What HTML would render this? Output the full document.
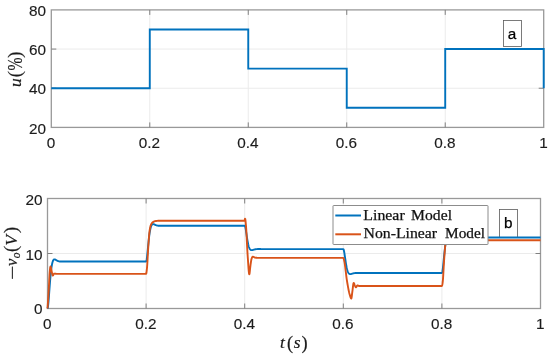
<!DOCTYPE html>
<html><head><meta charset="utf-8"><title>Linear vs Non-Linear Model</title>
<style>
html,body{margin:0;padding:0;background:#fff;}
body{width:550px;height:356px;overflow:hidden;}
svg{display:block;}
.tk{font-family:"Liberation Sans",Arial,sans-serif;font-size:15.3px;fill:#1c1c1c;stroke:#1c1c1c;stroke-width:0.15px;}
.an{font-family:"Liberation Sans",Arial,sans-serif;font-size:15.3px;fill:#000;stroke:#000;stroke-width:0.25px;}
.lg{font-family:"Liberation Serif","Times New Roman",serif;font-size:15.1px;fill:#111;stroke:#111;stroke-width:0.25px;}
.lb{font-family:"Liberation Serif","Times New Roman",serif;font-size:17.5px;fill:#1a1a1a;stroke:#1a1a1a;stroke-width:0.2px;}
.it{font-style:italic;}
</style></head>
<body>
<svg width="550" height="356" viewBox="0 0 550 356">
<rect width="550" height="356" fill="#ffffff"/>
<line x1="149.78" y1="9.9" x2="149.78" y2="127.4" stroke="#ebebeb" stroke-width="1"/>
<line x1="248.26" y1="9.9" x2="248.26" y2="127.4" stroke="#ebebeb" stroke-width="1"/>
<line x1="346.74" y1="9.9" x2="346.74" y2="127.4" stroke="#ebebeb" stroke-width="1"/>
<line x1="445.22" y1="9.9" x2="445.22" y2="127.4" stroke="#ebebeb" stroke-width="1"/>
<line x1="51.3" y1="88.23" x2="543.7" y2="88.23" stroke="#ebebeb" stroke-width="1"/>
<line x1="51.3" y1="49.07" x2="543.7" y2="49.07" stroke="#ebebeb" stroke-width="1"/>
<rect x="51.3" y="9.9" width="492.4" height="117.5" fill="none" stroke="#999999" stroke-width="1.3"/>
<line x1="149.78" y1="127.4" x2="149.78" y2="122.4" stroke="#808080" stroke-width="1"/>
<line x1="149.78" y1="9.9" x2="149.78" y2="14.9" stroke="#808080" stroke-width="1"/>
<line x1="248.26" y1="127.4" x2="248.26" y2="122.4" stroke="#808080" stroke-width="1"/>
<line x1="248.26" y1="9.9" x2="248.26" y2="14.9" stroke="#808080" stroke-width="1"/>
<line x1="346.74" y1="127.4" x2="346.74" y2="122.4" stroke="#808080" stroke-width="1"/>
<line x1="346.74" y1="9.9" x2="346.74" y2="14.9" stroke="#808080" stroke-width="1"/>
<line x1="445.22" y1="127.4" x2="445.22" y2="122.4" stroke="#808080" stroke-width="1"/>
<line x1="445.22" y1="9.9" x2="445.22" y2="14.9" stroke="#808080" stroke-width="1"/>
<line x1="51.3" y1="88.23" x2="56.3" y2="88.23" stroke="#808080" stroke-width="1"/>
<line x1="543.7" y1="88.23" x2="538.7" y2="88.23" stroke="#808080" stroke-width="1"/>
<line x1="51.3" y1="49.07" x2="56.3" y2="49.07" stroke="#808080" stroke-width="1"/>
<line x1="543.7" y1="49.07" x2="538.7" y2="49.07" stroke="#808080" stroke-width="1"/>
<path d="M51.3,88.23 L149.78,88.23 L149.78,29.48 L248.26,29.48 L248.26,68.65 L346.74,68.65 L346.74,107.82 L445.22,107.82 L445.22,49.07 L543.7,49.07 L543.7,88.23" fill="none" stroke="#0072BD" stroke-width="1.9" stroke-linejoin="miter"/>
<text class="tk" x="45.9" y="133.65" text-anchor="end">20</text>
<text class="tk" x="45.9" y="94.48" text-anchor="end">40</text>
<text class="tk" x="45.9" y="55.32" text-anchor="end">60</text>
<text class="tk" x="45.9" y="16.15" text-anchor="end">80</text>
<text class="tk" x="51" y="148.3" text-anchor="middle">0</text>
<text class="tk" x="149.48" y="148.3" text-anchor="middle">0.2</text>
<text class="tk" x="247.96" y="148.3" text-anchor="middle">0.4</text>
<text class="tk" x="346.44" y="148.3" text-anchor="middle">0.6</text>
<text class="tk" x="444.92" y="148.3" text-anchor="middle">0.8</text>
<text class="tk" x="543.4" y="148.3" text-anchor="middle">1</text>
<line x1="146.1" y1="198.5" x2="146.1" y2="308.5" stroke="#ebebeb" stroke-width="1"/>
<line x1="244.7" y1="198.5" x2="244.7" y2="308.5" stroke="#ebebeb" stroke-width="1"/>
<line x1="343.3" y1="198.5" x2="343.3" y2="308.5" stroke="#ebebeb" stroke-width="1"/>
<line x1="441.9" y1="198.5" x2="441.9" y2="308.5" stroke="#ebebeb" stroke-width="1"/>
<line x1="47.5" y1="253.5" x2="540.5" y2="253.5" stroke="#ebebeb" stroke-width="1"/>
<rect x="47.5" y="198.5" width="493" height="110" fill="none" stroke="#999999" stroke-width="1.3"/>
<line x1="146.1" y1="308.5" x2="146.1" y2="303.5" stroke="#808080" stroke-width="1"/>
<line x1="146.1" y1="198.5" x2="146.1" y2="203.5" stroke="#808080" stroke-width="1"/>
<line x1="244.7" y1="308.5" x2="244.7" y2="303.5" stroke="#808080" stroke-width="1"/>
<line x1="244.7" y1="198.5" x2="244.7" y2="203.5" stroke="#808080" stroke-width="1"/>
<line x1="343.3" y1="308.5" x2="343.3" y2="303.5" stroke="#808080" stroke-width="1"/>
<line x1="343.3" y1="198.5" x2="343.3" y2="203.5" stroke="#808080" stroke-width="1"/>
<line x1="441.9" y1="308.5" x2="441.9" y2="303.5" stroke="#808080" stroke-width="1"/>
<line x1="441.9" y1="198.5" x2="441.9" y2="203.5" stroke="#808080" stroke-width="1"/>
<line x1="47.5" y1="253.5" x2="52.5" y2="253.5" stroke="#808080" stroke-width="1"/>
<line x1="540.5" y1="253.5" x2="535.5" y2="253.5" stroke="#808080" stroke-width="1"/>
<rect x="499.5" y="209.5" width="18" height="28" fill="#fff" stroke="#5a5a5a" stroke-width="0.8"/>
<path d="M47.5,308.5 L47.75,307.96 L48,306.49 L48.25,304.31 L48.5,301.61 L48.75,298.56 L49,295.28 L49.25,291.91 L49.5,288.53 L49.75,285.21 L50,282.03 L50.25,279.03 L50.5,276.23 L50.75,273.65 L51,271.32 L51.25,269.23 L51.5,267.39 L51.75,265.78 L52,264.39 L52.25,263.22 L52.5,262.24 L52.75,261.43 L53,260.79 L53.25,260.29 L53.5,259.92 L53.75,259.65 L54,259.48 L54.25,259.39 L54.5,259.36 L54.75,259.38 L55,259.45 L55.25,259.55 L55.5,259.67 L55.75,259.81 L56,259.95 L56.25,260.11 L56.5,260.26 L56.75,260.41 L57,260.55 L57.25,260.69 L57.5,260.81 L57.75,260.93 L58,261.03 L58.25,261.13 L58.5,261.21 L58.75,261.28 L59,261.34 L59.25,261.4 L59.5,261.44 L59.75,261.48 L60,261.51 L60.25,261.53 L60.5,261.55 L60.75,261.56 L61,261.56 L61.25,261.57 L61.5,261.57 L61.75,261.57 L62,261.57 L62.25,261.56 L62.5,261.56 L62.75,261.55 L63,261.54 L63.25,261.54 L63.5,261.53 L63.75,261.52 L64,261.52 L64.25,261.51 L64.5,261.5 L64.75,261.5 L65,261.49 L65.25,261.49 L65.5,261.49 L65.75,261.48 L66,261.48 L66.25,261.48 L66.5,261.48 L66.75,261.47 L67,261.47 L67.25,261.47 L67.5,261.47 L67.75,261.47 L68,261.47 L68.25,261.47 L68.5,261.47 L68.75,261.47 L69,261.47 L69.25,261.47 L69.5,261.47 L69.75,261.47 L70,261.47 L70.25,261.47 L70.5,261.47 L70.75,261.47 L71,261.47 L71.25,261.47 L71.5,261.47 L71.75,261.47 L72,261.47 L72.25,261.47 L72.5,261.47 L72.75,261.47 L73,261.47 L73.25,261.47 L73.5,261.47 L73.75,261.48 L74,261.48 L74.25,261.48 L74.5,261.48 L74.75,261.48 L75,261.48 L75.25,261.48 L75.5,261.48 L75.75,261.48 L76,261.48 L76.25,261.48 L76.5,261.48 L76.75,261.48 L77,261.48 L77.25,261.48 L146.1,261.48 L146.1,261.48 L146.35,261.06 L146.6,259.95 L146.85,258.29 L147.1,256.24 L147.35,253.92 L147.6,251.43 L147.85,248.86 L148.1,246.29 L148.35,243.77 L148.6,241.35 L148.85,239.07 L149.1,236.94 L149.35,234.98 L149.6,233.21 L149.85,231.62 L150.1,230.22 L150.35,229 L150.6,227.94 L150.85,227.05 L151.1,226.3 L151.35,225.69 L151.6,225.2 L151.85,224.83 L152.1,224.54 L152.35,224.34 L152.6,224.21 L152.85,224.14 L153.1,224.12 L153.35,224.13 L153.6,224.19 L153.85,224.26 L154.1,224.35 L154.35,224.46 L154.6,224.57 L154.85,224.68 L155.1,224.8 L155.35,224.91 L155.6,225.02 L155.85,225.12 L156.1,225.22 L156.35,225.31 L156.6,225.39 L156.85,225.46 L157.1,225.52 L157.35,225.58 L157.6,225.63 L157.85,225.67 L158.1,225.7 L158.35,225.73 L158.6,225.75 L158.85,225.77 L159.1,225.78 L159.35,225.79 L159.6,225.79 L159.85,225.8 L160.1,225.8 L160.35,225.8 L160.6,225.79 L160.85,225.79 L161.1,225.79 L161.35,225.78 L161.6,225.78 L161.85,225.77 L162.1,225.77 L162.35,225.76 L162.6,225.76 L162.85,225.75 L163.1,225.75 L163.35,225.74 L163.6,225.74 L163.85,225.74 L164.1,225.73 L164.35,225.73 L164.6,225.73 L164.85,225.73 L165.1,225.73 L165.35,225.72 L165.6,225.72 L165.85,225.72 L166.1,225.72 L166.35,225.72 L166.6,225.72 L166.85,225.72 L167.1,225.72 L167.35,225.72 L167.6,225.72 L167.85,225.72 L168.1,225.72 L168.35,225.72 L168.6,225.72 L168.85,225.72 L169.1,225.72 L169.35,225.72 L169.6,225.72 L169.85,225.72 L170.1,225.72 L170.35,225.72 L170.6,225.72 L170.85,225.72 L171.1,225.72 L171.35,225.72 L171.6,225.72 L171.85,225.72 L172.1,225.72 L172.35,225.73 L172.6,225.73 L172.85,225.73 L173.1,225.73 L173.35,225.73 L173.6,225.73 L173.85,225.73 L174.1,225.73 L174.35,225.73 L174.6,225.73 L174.85,225.73 L175.1,225.73 L175.35,225.73 L175.6,225.73 L175.85,225.73 L244.7,225.72 L244.7,225.72 L244.95,225.99 L245.2,226.72 L245.45,227.81 L245.7,229.15 L245.95,230.67 L246.2,232.29 L246.45,233.97 L246.7,235.65 L246.95,237.3 L247.2,238.88 L247.45,240.38 L247.7,241.77 L247.95,243.05 L248.2,244.21 L248.45,245.24 L248.7,246.16 L248.95,246.96 L249.2,247.65 L249.45,248.23 L249.7,248.72 L249.95,249.12 L250.2,249.44 L250.45,249.69 L250.7,249.87 L250.95,250.01 L251.2,250.09 L251.45,250.14 L251.7,250.15 L251.95,250.14 L252.2,250.11 L252.45,250.06 L252.7,250 L252.95,249.93 L253.2,249.86 L253.45,249.78 L253.7,249.71 L253.95,249.63 L254.2,249.56 L254.45,249.49 L254.7,249.43 L254.95,249.37 L255.2,249.32 L255.45,249.27 L255.7,249.23 L255.95,249.2 L256.2,249.17 L256.45,249.14 L256.7,249.12 L256.95,249.1 L257.2,249.08 L257.45,249.07 L257.7,249.07 L257.95,249.06 L258.2,249.06 L258.45,249.05 L258.7,249.05 L258.95,249.05 L259.2,249.05 L259.45,249.06 L259.7,249.06 L259.95,249.06 L260.2,249.07 L260.45,249.07 L260.7,249.07 L260.95,249.08 L261.2,249.08 L261.45,249.08 L261.7,249.09 L261.95,249.09 L262.2,249.09 L262.45,249.09 L262.7,249.09 L262.95,249.1 L263.2,249.1 L263.45,249.1 L263.7,249.1 L263.95,249.1 L264.2,249.1 L264.45,249.1 L264.7,249.1 L264.95,249.1 L265.2,249.1 L265.45,249.1 L265.7,249.1 L265.95,249.1 L266.2,249.1 L266.45,249.1 L266.7,249.1 L266.95,249.1 L267.2,249.1 L267.45,249.1 L267.7,249.1 L267.95,249.1 L268.2,249.1 L268.45,249.1 L268.7,249.1 L268.95,249.1 L269.2,249.1 L269.45,249.1 L269.7,249.1 L269.95,249.1 L270.2,249.1 L270.45,249.1 L270.7,249.1 L270.95,249.1 L271.2,249.1 L271.45,249.1 L271.7,249.1 L271.95,249.1 L272.2,249.1 L272.45,249.1 L272.7,249.1 L272.95,249.1 L273.2,249.1 L273.45,249.1 L273.7,249.1 L273.95,249.1 L274.2,249.1 L274.45,249.1 L343.3,249.1 L343.3,249.1 L343.55,249.38 L343.8,250.12 L344.05,251.23 L344.3,252.6 L344.55,254.16 L344.8,255.82 L345.05,257.54 L345.3,259.26 L345.55,260.95 L345.8,262.57 L346.05,264.1 L346.3,265.52 L346.55,266.83 L346.8,268.02 L347.05,269.08 L347.3,270.02 L347.55,270.84 L347.8,271.54 L348.05,272.14 L348.3,272.64 L348.55,273.05 L348.8,273.37 L349.05,273.63 L349.3,273.82 L349.55,273.95 L349.8,274.04 L350.05,274.09 L350.3,274.1 L350.55,274.09 L350.8,274.06 L351.05,274.01 L351.3,273.94 L351.55,273.87 L351.8,273.8 L352.05,273.72 L352.3,273.64 L352.55,273.57 L352.8,273.5 L353.05,273.43 L353.3,273.36 L353.55,273.3 L353.8,273.25 L354.05,273.2 L354.3,273.16 L354.55,273.12 L354.8,273.09 L355.05,273.06 L355.3,273.04 L355.55,273.02 L355.8,273.01 L356.05,273 L356.3,272.99 L356.55,272.98 L356.8,272.98 L357.05,272.98 L357.3,272.98 L357.55,272.98 L357.8,272.98 L358.05,272.98 L358.3,272.98 L358.55,272.99 L358.8,272.99 L359.05,272.99 L359.3,273 L359.55,273 L359.8,273 L360.05,273.01 L360.3,273.01 L360.55,273.01 L360.8,273.01 L361.05,273.02 L361.3,273.02 L361.55,273.02 L361.8,273.02 L362.05,273.02 L362.3,273.02 L362.55,273.03 L362.8,273.03 L363.05,273.03 L363.3,273.03 L363.55,273.03 L363.8,273.03 L364.05,273.03 L364.3,273.03 L364.55,273.03 L364.8,273.03 L365.05,273.03 L365.3,273.03 L365.55,273.03 L365.8,273.03 L366.05,273.03 L366.3,273.03 L366.55,273.03 L366.8,273.03 L367.05,273.03 L367.3,273.03 L367.55,273.03 L367.8,273.03 L368.05,273.03 L368.3,273.03 L368.55,273.03 L368.8,273.03 L369.05,273.03 L369.3,273.03 L369.55,273.02 L369.8,273.02 L370.05,273.02 L370.3,273.02 L370.55,273.02 L370.8,273.02 L371.05,273.02 L371.3,273.02 L371.55,273.02 L371.8,273.02 L372.05,273.02 L372.3,273.02 L372.55,273.02 L372.8,273.02 L373.05,273.02 L441.9,273.02 L441.9,273.02 L442.15,272.62 L442.4,271.51 L442.65,269.86 L442.9,267.83 L443.15,265.52 L443.4,263.05 L443.65,260.51 L443.9,257.96 L444.15,255.46 L444.4,253.06 L444.65,250.79 L444.9,248.68 L445.15,246.74 L445.4,244.98 L445.65,243.4 L445.9,242.01 L446.15,240.8 L446.4,239.75 L446.65,238.86 L446.9,238.12 L447.15,237.52 L447.4,237.03 L447.65,236.66 L447.9,236.37 L448.15,236.17 L448.4,236.05 L448.65,235.97 L448.9,235.95 L449.15,235.97 L449.4,236.02 L449.65,236.1 L449.9,236.19 L450.15,236.29 L450.4,236.4 L450.65,236.52 L450.9,236.63 L451.15,236.74 L451.4,236.85 L451.65,236.95 L451.9,237.05 L452.15,237.14 L452.4,237.22 L452.65,237.29 L452.9,237.35 L453.15,237.4 L453.4,237.45 L453.65,237.49 L453.9,237.52 L454.15,237.55 L454.4,237.57 L454.65,237.59 L454.9,237.6 L455.15,237.61 L455.4,237.62 L455.65,237.62 L455.9,237.62 L456.15,237.62 L456.4,237.62 L456.65,237.62 L456.9,237.61 L457.15,237.61 L457.4,237.6 L457.65,237.6 L457.9,237.59 L458.15,237.59 L458.4,237.58 L458.65,237.58 L458.9,237.57 L459.15,237.57 L459.4,237.57 L459.65,237.56 L459.9,237.56 L460.15,237.56 L460.4,237.55 L460.65,237.55 L460.9,237.55 L461.15,237.55 L461.4,237.55 L461.65,237.55 L461.9,237.55 L462.15,237.55 L462.4,237.55 L462.65,237.55 L462.9,237.55 L463.15,237.55 L463.4,237.55 L463.65,237.55 L463.9,237.55 L464.15,237.55 L464.4,237.55 L464.65,237.55 L464.9,237.55 L465.15,237.55 L465.4,237.55 L465.65,237.55 L465.9,237.55 L466.15,237.55 L466.4,237.55 L466.65,237.55 L466.9,237.55 L467.15,237.55 L467.4,237.55 L467.65,237.55 L467.9,237.55 L468.15,237.55 L468.4,237.55 L468.65,237.55 L468.9,237.55 L469.15,237.55 L469.4,237.55 L469.65,237.55 L469.9,237.55 L470.15,237.55 L470.4,237.55 L470.65,237.55 L470.9,237.55 L471.15,237.55 L471.4,237.55 L471.65,237.55 L540.5,237.55" fill="none" stroke="#0072BD" stroke-width="1.9" stroke-linejoin="round"/>
<path d="M47.5,308.5 L47.75,305.25 L48,301.76 L48.25,298.05 L48.5,294.15 L48.75,290.04 L49,285.08 L49.25,279.71 L49.5,274.93 L49.75,271.68 L50,269.17 L50.25,267.21 L50.5,266.43 L50.75,266.88 L51,267.99 L51.25,269.35 L51.5,270.55 L51.75,271.68 L52,272.93 L52.25,274.12 L52.5,275.04 L52.75,275.49 L53,275.41 L53.25,275.08 L53.5,274.63 L53.75,274.16 L54,273.78 L54.25,273.58 L54.5,273.58 L54.75,273.6 L55,273.64 L55.25,273.68 L55.5,273.73 L55.75,273.78 L56,273.81 L56.25,273.84 L56.5,273.85 L56.75,273.85 L57,273.85 L57.25,273.85 L57.5,273.85 L57.75,273.85 L58,273.85 L58.25,273.85 L58.5,273.85 L58.75,273.85 L59,273.85 L59.25,273.85 L59.5,273.85 L59.75,273.85 L60,273.85 L60.25,273.85 L60.5,273.85 L60.75,273.85 L61,273.85 L61.25,273.85 L61.5,273.85 L61.75,273.85 L62,273.85 L62.25,273.85 L62.5,273.85 L62.75,273.85 L63,273.85 L63.25,273.85 L63.5,273.85 L63.75,273.85 L64,273.85 L64.25,273.85 L64.5,273.85 L64.75,273.85 L65,273.85 L65.25,273.85 L65.5,273.85 L65.75,273.85 L66,273.85 L66.25,273.85 L66.5,273.85 L66.75,273.85 L67,273.85 L67.25,273.85 L67.5,273.85 L67.75,273.85 L68,273.85 L68.25,273.85 L68.5,273.85 L68.75,273.85 L69,273.85 L69.25,273.85 L69.5,273.85 L69.75,273.85 L70,273.85 L70.25,273.85 L70.5,273.85 L70.75,273.85 L71,273.85 L71.25,273.85 L71.5,273.85 L71.75,273.85 L72,273.85 L72.25,273.85 L72.5,273.85 L72.75,273.85 L73,273.85 L73.25,273.85 L73.5,273.85 L73.75,273.85 L74,273.85 L74.25,273.85 L74.5,273.85 L74.75,273.85 L75,273.85 L75.25,273.85 L75.5,273.85 L75.75,273.85 L76,273.85 L76.25,273.85 L76.5,273.85 L76.75,273.85 L77,273.85 L77.25,273.85 L77.5,273.85 L77.75,273.85 L78,273.85 L78.25,273.85 L78.5,273.85 L78.75,273.85 L79,273.85 L79.25,273.85 L79.5,273.85 L79.75,273.85 L80,273.85 L80.25,273.85 L80.5,273.85 L80.75,273.85 L81,273.85 L81.25,273.85 L81.5,273.85 L81.75,273.85 L82,273.85 L82.25,273.85 L82.5,273.85 L82.75,273.85 L83,273.85 L83.25,273.85 L83.5,273.85 L83.75,273.85 L84,273.85 L84.25,273.85 L84.5,273.85 L84.75,273.85 L85,273.85 L85.25,273.85 L85.5,273.85 L85.75,273.85 L86,273.85 L86.25,273.85 L86.5,273.85 L86.75,273.85 L87,273.85 L87.25,273.85 L87.5,273.85 L87.75,273.85 L88,273.85 L88.25,273.85 L88.5,273.85 L88.75,273.85 L89,273.85 L89.25,273.85 L89.5,273.85 L89.75,273.85 L90,273.85 L90.25,273.85 L90.5,273.85 L90.75,273.85 L91,273.85 L91.25,273.85 L91.5,273.85 L91.75,273.85 L92,273.85 L92.25,273.85 L92.5,273.85 L92.75,273.85 L93,273.85 L93.25,273.85 L93.5,273.85 L93.75,273.85 L94,273.85 L94.25,273.85 L94.5,273.85 L94.75,273.85 L95,273.85 L95.25,273.85 L95.5,273.85 L95.75,273.85 L96,273.85 L96.25,273.85 L96.5,273.85 L96.75,273.85 L97,273.85 L97.25,273.85 L97.5,273.85 L97.75,273.85 L98,273.85 L98.25,273.85 L98.5,273.85 L98.75,273.85 L99,273.85 L99.25,273.85 L99.5,273.85 L99.75,273.85 L100,273.85 L100.25,273.85 L100.5,273.85 L100.75,273.85 L101,273.85 L101.25,273.85 L101.5,273.85 L101.75,273.85 L102,273.85 L102.25,273.85 L102.5,273.85 L102.75,273.85 L103,273.85 L103.25,273.85 L103.5,273.85 L103.75,273.85 L104,273.85 L104.25,273.85 L104.5,273.85 L104.75,273.85 L105,273.85 L105.25,273.85 L105.5,273.85 L105.75,273.85 L106,273.85 L106.25,273.85 L106.5,273.85 L106.75,273.85 L107,273.85 L107.25,273.85 L107.5,273.85 L107.75,273.85 L108,273.85 L108.25,273.85 L108.5,273.85 L108.75,273.85 L109,273.85 L109.25,273.85 L109.5,273.85 L109.75,273.85 L110,273.85 L110.25,273.85 L110.5,273.85 L110.75,273.85 L111,273.85 L111.25,273.85 L111.5,273.85 L111.75,273.85 L112,273.85 L112.25,273.85 L112.5,273.85 L112.75,273.85 L113,273.85 L113.25,273.85 L113.5,273.85 L113.75,273.85 L114,273.85 L114.25,273.85 L114.5,273.85 L114.75,273.85 L115,273.85 L115.25,273.85 L115.5,273.85 L115.75,273.85 L116,273.85 L116.25,273.85 L116.5,273.85 L116.75,273.85 L117,273.85 L117.25,273.85 L117.5,273.85 L117.75,273.85 L118,273.85 L118.25,273.85 L118.5,273.85 L118.75,273.85 L119,273.85 L119.25,273.85 L119.5,273.85 L119.75,273.85 L120,273.85 L120.25,273.85 L120.5,273.85 L120.75,273.85 L121,273.85 L121.25,273.85 L121.5,273.85 L121.75,273.85 L122,273.85 L122.25,273.85 L122.5,273.85 L122.75,273.85 L123,273.85 L123.25,273.85 L123.5,273.85 L123.75,273.85 L124,273.85 L124.25,273.85 L124.5,273.85 L124.75,273.85 L125,273.85 L125.25,273.85 L125.5,273.85 L125.75,273.85 L126,273.85 L126.25,273.85 L126.5,273.85 L126.75,273.85 L127,273.85 L127.25,273.85 L127.5,273.85 L127.75,273.85 L128,273.85 L128.25,273.85 L128.5,273.85 L128.75,273.85 L129,273.85 L129.25,273.85 L129.5,273.85 L129.75,273.85 L130,273.85 L130.25,273.85 L130.5,273.85 L130.75,273.85 L131,273.85 L131.25,273.85 L131.5,273.85 L131.75,273.85 L132,273.85 L132.25,273.85 L132.5,273.85 L132.75,273.85 L133,273.85 L133.25,273.85 L133.5,273.85 L133.75,273.85 L134,273.85 L134.25,273.85 L134.5,273.85 L134.75,273.85 L135,273.85 L135.25,273.85 L135.5,273.85 L135.75,273.85 L136,273.85 L136.25,273.85 L136.5,273.85 L136.75,273.85 L137,273.85 L137.25,273.85 L137.5,273.85 L137.75,273.85 L138,273.85 L138.25,273.85 L138.5,273.85 L138.75,273.85 L139,273.85 L139.25,273.85 L139.5,273.85 L139.75,273.85 L140,273.85 L140.25,273.85 L140.5,273.85 L140.75,273.85 L141,273.85 L141.25,273.85 L141.5,273.85 L141.75,273.85 L142,273.85 L142.25,273.85 L142.5,273.85 L142.75,273.85 L143,273.85 L143.25,273.85 L143.5,273.85 L143.75,273.85 L144,273.85 L144.25,273.85 L144.5,273.85 L144.75,273.85 L145,273.85 L145.25,273.85 L145.5,273.85 L145.75,273.85 L146,273.85 L146.25,273.6 L146.5,272.25 L146.75,270.16 L147,267.8 L147.25,264.71 L147.5,260.51 L147.75,255.8 L148,251.2 L148.25,247.28 L148.5,243.59 L148.75,239.94 L149,236.55 L149.25,233.67 L149.5,231.5 L149.75,229.86 L150,228.4 L150.25,227.14 L150.5,226.09 L150.75,225.27 L151,224.68 L151.25,224.19 L151.5,223.74 L151.75,223.35 L152,223.01 L152.25,222.71 L152.5,222.46 L152.75,222.25 L153,222.09 L153.25,221.93 L153.5,221.79 L153.75,221.66 L154,221.54 L154.25,221.43 L154.5,221.33 L154.75,221.24 L155,221.17 L155.25,221.11 L155.5,221.06 L155.75,221.03 L156,221 L156.25,220.97 L156.5,220.94 L156.75,220.91 L157,220.88 L157.25,220.86 L157.5,220.84 L157.75,220.82 L158,220.81 L158.25,220.79 L158.5,220.78 L158.75,220.78 L159,220.78 L159.25,220.78 L159.5,220.78 L159.75,220.78 L160,220.78 L160.25,220.78 L160.5,220.78 L160.75,220.78 L161,220.78 L161.25,220.78 L161.5,220.78 L161.75,220.78 L162,220.78 L162.25,220.78 L162.5,220.78 L162.75,220.78 L163,220.78 L163.25,220.78 L163.5,220.78 L163.75,220.78 L164,220.78 L164.25,220.78 L164.5,220.78 L164.75,220.78 L165,220.78 L165.25,220.78 L165.5,220.78 L165.75,220.78 L166,220.78 L166.25,220.78 L166.5,220.78 L166.75,220.78 L167,220.78 L167.25,220.78 L167.5,220.78 L167.75,220.78 L168,220.78 L168.25,220.78 L168.5,220.78 L168.75,220.78 L169,220.78 L169.25,220.78 L169.5,220.78 L169.75,220.78 L170,220.78 L170.25,220.78 L170.5,220.78 L170.75,220.78 L171,220.78 L171.25,220.78 L171.5,220.78 L171.75,220.78 L172,220.78 L172.25,220.78 L172.5,220.78 L172.75,220.78 L173,220.78 L173.25,220.78 L173.5,220.78 L173.75,220.78 L174,220.78 L174.25,220.78 L174.5,220.78 L174.75,220.78 L175,220.78 L175.25,220.78 L175.5,220.78 L175.75,220.78 L176,220.78 L176.25,220.78 L176.5,220.78 L176.75,220.78 L177,220.78 L177.25,220.78 L177.5,220.78 L177.75,220.78 L178,220.78 L178.25,220.78 L178.5,220.78 L178.75,220.78 L179,220.78 L179.25,220.78 L179.5,220.78 L179.75,220.78 L180,220.78 L180.25,220.78 L180.5,220.78 L180.75,220.78 L181,220.78 L181.25,220.78 L181.5,220.78 L181.75,220.78 L182,220.78 L182.25,220.78 L182.5,220.78 L182.75,220.78 L183,220.78 L183.25,220.78 L183.5,220.78 L183.75,220.78 L184,220.78 L184.25,220.78 L184.5,220.78 L184.75,220.78 L185,220.78 L185.25,220.78 L185.5,220.78 L185.75,220.78 L186,220.78 L186.25,220.78 L186.5,220.78 L186.75,220.78 L187,220.78 L187.25,220.78 L187.5,220.78 L187.75,220.78 L188,220.78 L188.25,220.78 L188.5,220.78 L188.75,220.78 L189,220.78 L189.25,220.78 L189.5,220.78 L189.75,220.78 L190,220.78 L190.25,220.78 L190.5,220.78 L190.75,220.78 L191,220.78 L191.25,220.78 L191.5,220.78 L191.75,220.78 L192,220.78 L192.25,220.78 L192.5,220.78 L192.75,220.78 L193,220.78 L193.25,220.78 L193.5,220.78 L193.75,220.78 L194,220.78 L194.25,220.78 L194.5,220.78 L194.75,220.78 L195,220.78 L195.25,220.78 L195.5,220.78 L195.75,220.78 L196,220.78 L196.25,220.78 L196.5,220.78 L196.75,220.78 L197,220.78 L197.25,220.78 L197.5,220.78 L197.75,220.78 L198,220.78 L198.25,220.78 L198.5,220.78 L198.75,220.78 L199,220.78 L199.25,220.78 L199.5,220.78 L199.75,220.78 L200,220.78 L200.25,220.78 L200.5,220.78 L200.75,220.78 L201,220.78 L201.25,220.78 L201.5,220.78 L201.75,220.78 L202,220.78 L202.25,220.78 L202.5,220.78 L202.75,220.78 L203,220.78 L203.25,220.78 L203.5,220.78 L203.75,220.78 L204,220.78 L204.25,220.78 L204.5,220.78 L204.75,220.78 L205,220.78 L205.25,220.78 L205.5,220.78 L205.75,220.78 L206,220.78 L206.25,220.78 L206.5,220.78 L206.75,220.78 L207,220.78 L207.25,220.78 L207.5,220.78 L207.75,220.78 L208,220.78 L208.25,220.78 L208.5,220.78 L208.75,220.78 L209,220.78 L209.25,220.78 L209.5,220.78 L209.75,220.78 L210,220.78 L210.25,220.78 L210.5,220.78 L210.75,220.78 L211,220.78 L211.25,220.78 L211.5,220.78 L211.75,220.78 L212,220.78 L212.25,220.78 L212.5,220.78 L212.75,220.78 L213,220.78 L213.25,220.78 L213.5,220.78 L213.75,220.78 L214,220.78 L214.25,220.78 L214.5,220.78 L214.75,220.78 L215,220.78 L215.25,220.78 L215.5,220.78 L215.75,220.78 L216,220.78 L216.25,220.78 L216.5,220.78 L216.75,220.78 L217,220.78 L217.25,220.78 L217.5,220.78 L217.75,220.78 L218,220.78 L218.25,220.78 L218.5,220.78 L218.75,220.78 L219,220.78 L219.25,220.78 L219.5,220.78 L219.75,220.78 L220,220.78 L220.25,220.78 L220.5,220.78 L220.75,220.78 L221,220.78 L221.25,220.78 L221.5,220.78 L221.75,220.78 L222,220.78 L222.25,220.78 L222.5,220.78 L222.75,220.78 L223,220.78 L223.25,220.78 L223.5,220.78 L223.75,220.78 L224,220.78 L224.25,220.78 L224.5,220.78 L224.75,220.78 L225,220.78 L225.25,220.78 L225.5,220.78 L225.75,220.78 L226,220.78 L226.25,220.78 L226.5,220.78 L226.75,220.78 L227,220.78 L227.25,220.78 L227.5,220.78 L227.75,220.78 L228,220.78 L228.25,220.78 L228.5,220.78 L228.75,220.78 L229,220.78 L229.25,220.78 L229.5,220.78 L229.75,220.78 L230,220.78 L230.25,220.78 L230.5,220.78 L230.75,220.78 L231,220.78 L231.25,220.78 L231.5,220.78 L231.75,220.78 L232,220.78 L232.25,220.78 L232.5,220.78 L232.75,220.78 L233,220.78 L233.25,220.78 L233.5,220.78 L233.75,220.78 L234,220.78 L234.25,220.78 L234.5,220.78 L234.75,220.78 L235,220.78 L235.25,220.78 L235.5,220.78 L235.75,220.78 L236,220.78 L236.25,220.78 L236.5,220.78 L236.75,220.78 L237,220.78 L237.25,220.78 L237.5,220.78 L237.75,220.78 L238,220.78 L238.25,220.78 L238.5,220.78 L238.75,220.78 L239,220.78 L239.25,220.78 L239.5,220.78 L239.75,220.78 L240,220.78 L240.25,220.78 L240.5,220.78 L240.75,220.78 L241,220.78 L241.25,220.78 L241.5,220.78 L241.75,220.78 L242,220.78 L242.25,220.78 L242.5,220.78 L242.75,220.78 L243,220.78 L243.25,220.78 L243.5,220.78 L243.75,220.78 L244,220.78 L244.25,220.78 L244.5,220.78 L244.75,219.95 L245,218.74 L245.25,218.92 L245.5,220.7 L245.75,223.29 L246,226.03 L246.25,229.6 L246.5,233.97 L246.75,238.83 L247,243.86 L247.25,248.76 L247.5,253.22 L247.75,256.94 L248,260.63 L248.25,264.45 L248.5,268.06 L248.75,271.14 L249,273.35 L249.25,274.37 L249.5,273.82 L249.75,271.91 L250,269.4 L250.25,267.07 L250.5,265.24 L250.75,263.34 L251,261.55 L251.25,260.04 L251.5,259 L251.75,258.28 L252,257.63 L252.25,257.11 L252.5,256.78 L252.75,256.69 L253,256.72 L253.25,256.79 L253.5,256.89 L253.75,257.01 L254,257.14 L254.25,257.27 L254.5,257.4 L254.75,257.5 L255,257.59 L255.25,257.63 L255.5,257.66 L255.75,257.7 L256,257.73 L256.25,257.75 L256.5,257.78 L256.75,257.8 L257,257.83 L257.25,257.84 L257.5,257.86 L257.75,257.88 L258,257.89 L258.25,257.89 L258.5,257.9 L258.75,257.9 L259,257.9 L259.25,257.9 L259.5,257.9 L259.75,257.9 L260,257.9 L260.25,257.9 L260.5,257.9 L260.75,257.9 L261,257.9 L261.25,257.9 L261.5,257.9 L261.75,257.9 L262,257.9 L262.25,257.9 L262.5,257.9 L262.75,257.9 L263,257.9 L263.25,257.9 L263.5,257.9 L263.75,257.9 L264,257.9 L264.25,257.9 L264.5,257.9 L264.75,257.9 L265,257.9 L265.25,257.9 L265.5,257.9 L265.75,257.9 L266,257.9 L266.25,257.9 L266.5,257.9 L266.75,257.9 L267,257.9 L267.25,257.9 L267.5,257.9 L267.75,257.9 L268,257.9 L268.25,257.9 L268.5,257.9 L268.75,257.9 L269,257.9 L269.25,257.9 L269.5,257.9 L269.75,257.9 L270,257.9 L270.25,257.9 L270.5,257.9 L270.75,257.9 L271,257.9 L271.25,257.9 L271.5,257.9 L271.75,257.9 L272,257.9 L272.25,257.9 L272.5,257.9 L272.75,257.9 L273,257.9 L273.25,257.9 L273.5,257.9 L273.75,257.9 L274,257.9 L274.25,257.9 L274.5,257.9 L274.75,257.9 L275,257.9 L275.25,257.9 L275.5,257.9 L275.75,257.9 L276,257.9 L276.25,257.9 L276.5,257.9 L276.75,257.9 L277,257.9 L277.25,257.9 L277.5,257.9 L277.75,257.9 L278,257.9 L278.25,257.9 L278.5,257.9 L278.75,257.9 L279,257.9 L279.25,257.9 L279.5,257.9 L279.75,257.9 L280,257.9 L280.25,257.9 L280.5,257.9 L280.75,257.9 L281,257.9 L281.25,257.9 L281.5,257.9 L281.75,257.9 L282,257.9 L282.25,257.9 L282.5,257.9 L282.75,257.9 L283,257.9 L283.25,257.9 L283.5,257.9 L283.75,257.9 L284,257.9 L284.25,257.9 L284.5,257.9 L284.75,257.9 L285,257.9 L285.25,257.9 L285.5,257.9 L285.75,257.9 L286,257.9 L286.25,257.9 L286.5,257.9 L286.75,257.9 L287,257.9 L287.25,257.9 L287.5,257.9 L287.75,257.9 L288,257.9 L288.25,257.9 L288.5,257.9 L288.75,257.9 L289,257.9 L289.25,257.9 L289.5,257.9 L289.75,257.9 L290,257.9 L290.25,257.9 L290.5,257.9 L290.75,257.9 L291,257.9 L291.25,257.9 L291.5,257.9 L291.75,257.9 L292,257.9 L292.25,257.9 L292.5,257.9 L292.75,257.9 L293,257.9 L293.25,257.9 L293.5,257.9 L293.75,257.9 L294,257.9 L294.25,257.9 L294.5,257.9 L294.75,257.9 L295,257.9 L295.25,257.9 L295.5,257.9 L295.75,257.9 L296,257.9 L296.25,257.9 L296.5,257.9 L296.75,257.9 L297,257.9 L297.25,257.9 L297.5,257.9 L297.75,257.9 L298,257.9 L298.25,257.9 L298.5,257.9 L298.75,257.9 L299,257.9 L299.25,257.9 L299.5,257.9 L299.75,257.9 L300,257.9 L300.25,257.9 L300.5,257.9 L300.75,257.9 L301,257.9 L301.25,257.9 L301.5,257.9 L301.75,257.9 L302,257.9 L302.25,257.9 L302.5,257.9 L302.75,257.9 L303,257.9 L303.25,257.9 L303.5,257.9 L303.75,257.9 L304,257.9 L304.25,257.9 L304.5,257.9 L304.75,257.9 L305,257.9 L305.25,257.9 L305.5,257.9 L305.75,257.9 L306,257.9 L306.25,257.9 L306.5,257.9 L306.75,257.9 L307,257.9 L307.25,257.9 L307.5,257.9 L307.75,257.9 L308,257.9 L308.25,257.9 L308.5,257.9 L308.75,257.9 L309,257.9 L309.25,257.9 L309.5,257.9 L309.75,257.9 L310,257.9 L310.25,257.9 L310.5,257.9 L310.75,257.9 L311,257.9 L311.25,257.9 L311.5,257.9 L311.75,257.9 L312,257.9 L312.25,257.9 L312.5,257.9 L312.75,257.9 L313,257.9 L313.25,257.9 L313.5,257.9 L313.75,257.9 L314,257.9 L314.25,257.9 L314.5,257.9 L314.75,257.9 L315,257.9 L315.25,257.9 L315.5,257.9 L315.75,257.9 L316,257.9 L316.25,257.9 L316.5,257.9 L316.75,257.9 L317,257.9 L317.25,257.9 L317.5,257.9 L317.75,257.9 L318,257.9 L318.25,257.9 L318.5,257.9 L318.75,257.9 L319,257.9 L319.25,257.9 L319.5,257.9 L319.75,257.9 L320,257.9 L320.25,257.9 L320.5,257.9 L320.75,257.9 L321,257.9 L321.25,257.9 L321.5,257.9 L321.75,257.9 L322,257.9 L322.25,257.9 L322.5,257.9 L322.75,257.9 L323,257.9 L323.25,257.9 L323.5,257.9 L323.75,257.9 L324,257.9 L324.25,257.9 L324.5,257.9 L324.75,257.9 L325,257.9 L325.25,257.9 L325.5,257.9 L325.75,257.9 L326,257.9 L326.25,257.9 L326.5,257.9 L326.75,257.9 L327,257.9 L327.25,257.9 L327.5,257.9 L327.75,257.9 L328,257.9 L328.25,257.9 L328.5,257.9 L328.75,257.9 L329,257.9 L329.25,257.9 L329.5,257.9 L329.75,257.9 L330,257.9 L330.25,257.9 L330.5,257.9 L330.75,257.9 L331,257.9 L331.25,257.9 L331.5,257.9 L331.75,257.9 L332,257.9 L332.25,257.9 L332.5,257.9 L332.75,257.9 L333,257.9 L333.25,257.9 L333.5,257.9 L333.75,257.9 L334,257.9 L334.25,257.9 L334.5,257.9 L334.75,257.9 L335,257.9 L335.25,257.9 L335.5,257.9 L335.75,257.9 L336,257.9 L336.25,257.9 L336.5,257.9 L336.75,257.9 L337,257.9 L337.25,257.9 L337.5,257.9 L337.75,257.9 L338,257.9 L338.25,257.9 L338.5,257.9 L338.75,257.9 L339,257.9 L339.25,257.9 L339.5,257.9 L339.75,257.9 L340,257.9 L340.25,257.9 L340.5,257.9 L340.75,257.9 L341,257.9 L341.25,257.9 L341.5,257.9 L341.75,257.9 L342,257.9 L342.25,257.9 L342.5,257.9 L342.75,257.9 L343,257.9 L343.25,257.9 L343.5,258.11 L343.75,258.82 L344,259.85 L344.25,260.98 L344.5,262.17 L344.75,263.64 L345,265.35 L345.25,267.25 L345.5,269.27 L345.75,271.37 L346,273.49 L346.25,275.57 L346.5,277.55 L346.75,279.38 L347,281 L347.25,282.49 L347.5,283.97 L347.75,285.42 L348,286.83 L348.25,288.19 L348.5,289.49 L348.75,290.72 L349,291.86 L349.25,292.91 L349.5,293.86 L349.75,294.71 L350,295.6 L350.25,296.47 L350.5,297.26 L350.75,297.92 L351,298.38 L351.25,298.59 L351.5,298.12 L351.75,296.52 L352,294.39 L352.25,292.34 L352.5,290.54 L352.75,288.43 L353,286.32 L353.25,284.49 L353.5,283.27 L353.75,282.94 L354,283.26 L354.25,283.89 L354.5,284.64 L354.75,285.3 L355,285.83 L355.25,286.41 L355.5,286.93 L355.75,287.26 L356,287.3 L356.25,287.09 L356.5,286.72 L356.75,286.27 L357,285.85 L357.25,285.53 L357.5,285.4 L357.75,285.43 L358,285.52 L358.25,285.65 L358.5,285.78 L358.75,285.91 L359,286.01 L359.25,286.06 L359.5,286.06 L359.75,286.05 L360,286.04 L360.25,286.03 L360.5,286.02 L360.75,286.01 L361,285.99 L361.25,285.98 L361.5,285.97 L361.75,285.96 L362,285.95 L362.25,285.95 L362.5,285.95 L362.75,285.95 L363,285.95 L363.25,285.95 L363.5,285.95 L363.75,285.95 L364,285.95 L364.25,285.95 L364.5,285.95 L364.75,285.95 L365,285.95 L365.25,285.95 L365.5,285.95 L365.75,285.95 L366,285.95 L366.25,285.95 L366.5,285.95 L366.75,285.95 L367,285.95 L367.25,285.95 L367.5,285.95 L367.75,285.95 L368,285.95 L368.25,285.95 L368.5,285.95 L368.75,285.95 L369,285.95 L369.25,285.95 L369.5,285.95 L369.75,285.95 L370,285.95 L370.25,285.95 L370.5,285.95 L370.75,285.95 L371,285.95 L371.25,285.95 L371.5,285.95 L371.75,285.95 L372,285.95 L372.25,285.95 L372.5,285.95 L372.75,285.95 L373,285.95 L373.25,285.95 L373.5,285.95 L373.75,285.95 L374,285.95 L374.25,285.95 L374.5,285.95 L374.75,285.95 L375,285.95 L375.25,285.95 L375.5,285.95 L375.75,285.95 L376,285.95 L376.25,285.95 L376.5,285.95 L376.75,285.95 L377,285.95 L377.25,285.95 L377.5,285.95 L377.75,285.95 L378,285.95 L378.25,285.95 L378.5,285.95 L378.75,285.95 L379,285.95 L379.25,285.95 L379.5,285.95 L379.75,285.95 L380,285.95 L380.25,285.95 L380.5,285.95 L380.75,285.95 L381,285.95 L381.25,285.95 L381.5,285.95 L381.75,285.95 L382,285.95 L382.25,285.95 L382.5,285.95 L382.75,285.95 L383,285.95 L383.25,285.95 L383.5,285.95 L383.75,285.95 L384,285.95 L384.25,285.95 L384.5,285.95 L384.75,285.95 L385,285.95 L385.25,285.95 L385.5,285.95 L385.75,285.95 L386,285.95 L386.25,285.95 L386.5,285.95 L386.75,285.95 L387,285.95 L387.25,285.95 L387.5,285.95 L387.75,285.95 L388,285.95 L388.25,285.95 L388.5,285.95 L388.75,285.95 L389,285.95 L389.25,285.95 L389.5,285.95 L389.75,285.95 L390,285.95 L390.25,285.95 L390.5,285.95 L390.75,285.95 L391,285.95 L391.25,285.95 L391.5,285.95 L391.75,285.95 L392,285.95 L392.25,285.95 L392.5,285.95 L392.75,285.95 L393,285.95 L393.25,285.95 L393.5,285.95 L393.75,285.95 L394,285.95 L394.25,285.95 L394.5,285.95 L394.75,285.95 L395,285.95 L395.25,285.95 L395.5,285.95 L395.75,285.95 L396,285.95 L396.25,285.95 L396.5,285.95 L396.75,285.95 L397,285.95 L397.25,285.95 L397.5,285.95 L397.75,285.95 L398,285.95 L398.25,285.95 L398.5,285.95 L398.75,285.95 L399,285.95 L399.25,285.95 L399.5,285.95 L399.75,285.95 L400,285.95 L400.25,285.95 L400.5,285.95 L400.75,285.95 L401,285.95 L401.25,285.95 L401.5,285.95 L401.75,285.95 L402,285.95 L402.25,285.95 L402.5,285.95 L402.75,285.95 L403,285.95 L403.25,285.95 L403.5,285.95 L403.75,285.95 L404,285.95 L404.25,285.95 L404.5,285.95 L404.75,285.95 L405,285.95 L405.25,285.95 L405.5,285.95 L405.75,285.95 L406,285.95 L406.25,285.95 L406.5,285.95 L406.75,285.95 L407,285.95 L407.25,285.95 L407.5,285.95 L407.75,285.95 L408,285.95 L408.25,285.95 L408.5,285.95 L408.75,285.95 L409,285.95 L409.25,285.95 L409.5,285.95 L409.75,285.95 L410,285.95 L410.25,285.95 L410.5,285.95 L410.75,285.95 L411,285.95 L411.25,285.95 L411.5,285.95 L411.75,285.95 L412,285.95 L412.25,285.95 L412.5,285.95 L412.75,285.95 L413,285.95 L413.25,285.95 L413.5,285.95 L413.75,285.95 L414,285.95 L414.25,285.95 L414.5,285.95 L414.75,285.95 L415,285.95 L415.25,285.95 L415.5,285.95 L415.75,285.95 L416,285.95 L416.25,285.95 L416.5,285.95 L416.75,285.95 L417,285.95 L417.25,285.95 L417.5,285.95 L417.75,285.95 L418,285.95 L418.25,285.95 L418.5,285.95 L418.75,285.95 L419,285.95 L419.25,285.95 L419.5,285.95 L419.75,285.95 L420,285.95 L420.25,285.95 L420.5,285.95 L420.75,285.95 L421,285.95 L421.25,285.95 L421.5,285.95 L421.75,285.95 L422,285.95 L422.25,285.95 L422.5,285.95 L422.75,285.95 L423,285.95 L423.25,285.95 L423.5,285.95 L423.75,285.95 L424,285.95 L424.25,285.95 L424.5,285.95 L424.75,285.95 L425,285.95 L425.25,285.95 L425.5,285.95 L425.75,285.95 L426,285.95 L426.25,285.95 L426.5,285.95 L426.75,285.95 L427,285.95 L427.25,285.95 L427.5,285.95 L427.75,285.95 L428,285.95 L428.25,285.95 L428.5,285.95 L428.75,285.95 L429,285.95 L429.25,285.95 L429.5,285.95 L429.75,285.95 L430,285.95 L430.25,285.95 L430.5,285.95 L430.75,285.95 L431,285.95 L431.25,285.95 L431.5,285.95 L431.75,285.95 L432,285.95 L432.25,285.95 L432.5,285.95 L432.75,285.95 L433,285.95 L433.25,285.95 L433.5,285.95 L433.75,285.95 L434,285.95 L434.25,285.95 L434.5,285.95 L434.75,285.95 L435,285.95 L435.25,285.95 L435.5,285.95 L435.75,285.95 L436,285.95 L436.25,285.95 L436.5,285.95 L436.75,285.95 L437,285.95 L437.25,285.95 L437.5,285.95 L437.75,285.95 L438,285.95 L438.25,285.95 L438.5,285.95 L438.75,285.95 L439,285.95 L439.25,285.95 L439.5,285.95 L439.75,285.95 L440,285.95 L440.25,285.95 L440.5,285.95 L440.75,285.95 L441,285.95 L441.25,285.95 L441.5,285.95 L441.75,285.95 L442,285.86 L442.25,284.99 L442.5,283.5 L442.75,281.71 L443,278.84 L443.25,274.84 L443.5,270.27 L443.75,265.72 L444,261.75 L444.25,258.22 L444.5,254.69 L444.75,251.31 L445,248.21 L445.25,245.51 L445.5,243.3 L445.75,241.14 L446,239.05 L446.25,237.21 L446.5,235.79 L446.75,234.95 L447,234.82 L447.25,234.99 L447.5,235.31 L447.75,235.73 L448,236.21 L448.25,236.71 L448.5,237.21 L448.75,237.92 L449,238.76 L449.25,239.61 L449.5,240.32 L449.75,240.77 L450,240.85 L450.25,240.83 L450.5,240.78 L450.75,240.72 L451,240.65 L451.25,240.57 L451.5,240.49 L451.75,240.41 L452,240.33 L452.25,240.27 L452.5,240.22 L452.75,240.19 L453,240.19 L453.25,240.19 L453.5,240.2 L453.75,240.2 L454,240.21 L454.25,240.22 L454.5,240.23 L454.75,240.24 L455,240.25 L455.25,240.26 L455.5,240.27 L455.75,240.28 L456,240.29 L456.25,240.29 L456.5,240.3 L456.75,240.3 L457,240.3 L457.25,240.3 L457.5,240.3 L457.75,240.3 L458,240.3 L458.25,240.3 L458.5,240.3 L458.75,240.3 L459,240.3 L459.25,240.3 L459.5,240.3 L459.75,240.3 L460,240.3 L460.25,240.3 L460.5,240.3 L460.75,240.3 L461,240.3 L461.25,240.3 L461.5,240.3 L461.75,240.3 L462,240.3 L462.25,240.3 L462.5,240.3 L462.75,240.3 L463,240.3 L463.25,240.3 L463.5,240.3 L463.75,240.3 L464,240.3 L464.25,240.3 L464.5,240.3 L464.75,240.3 L465,240.3 L465.25,240.3 L465.5,240.3 L465.75,240.3 L466,240.3 L466.25,240.3 L466.5,240.3 L466.75,240.3 L467,240.3 L467.25,240.3 L467.5,240.3 L467.75,240.3 L468,240.3 L468.25,240.3 L468.5,240.3 L468.75,240.3 L469,240.3 L469.25,240.3 L469.5,240.3 L469.75,240.3 L470,240.3 L470.25,240.3 L470.5,240.3 L470.75,240.3 L471,240.3 L471.25,240.3 L471.5,240.3 L471.75,240.3 L472,240.3 L472.25,240.3 L472.5,240.3 L472.75,240.3 L473,240.3 L473.25,240.3 L473.5,240.3 L473.75,240.3 L474,240.3 L474.25,240.3 L474.5,240.3 L474.75,240.3 L475,240.3 L475.25,240.3 L475.5,240.3 L475.75,240.3 L476,240.3 L476.25,240.3 L476.5,240.3 L476.75,240.3 L477,240.3 L477.25,240.3 L477.5,240.3 L477.75,240.3 L478,240.3 L478.25,240.3 L478.5,240.3 L478.75,240.3 L479,240.3 L479.25,240.3 L479.5,240.3 L479.75,240.3 L480,240.3 L480.25,240.3 L480.5,240.3 L480.75,240.3 L481,240.3 L481.25,240.3 L481.5,240.3 L481.75,240.3 L482,240.3 L482.25,240.3 L482.5,240.3 L482.75,240.3 L483,240.3 L483.25,240.3 L483.5,240.3 L483.75,240.3 L484,240.3 L484.25,240.3 L484.5,240.3 L484.75,240.3 L485,240.3 L485.25,240.3 L485.5,240.3 L485.75,240.3 L486,240.3 L486.25,240.3 L486.5,240.3 L486.75,240.3 L487,240.3 L487.25,240.3 L487.5,240.3 L487.75,240.3 L488,240.3 L488.25,240.3 L488.5,240.3 L488.75,240.3 L489,240.3 L489.25,240.3 L489.5,240.3 L489.75,240.3 L490,240.3 L490.25,240.3 L490.5,240.3 L490.75,240.3 L491,240.3 L491.25,240.3 L491.5,240.3 L491.75,240.3 L492,240.3 L492.25,240.3 L492.5,240.3 L492.75,240.3 L493,240.3 L493.25,240.3 L493.5,240.3 L493.75,240.3 L494,240.3 L494.25,240.3 L494.5,240.3 L494.75,240.3 L495,240.3 L495.25,240.3 L495.5,240.3 L495.75,240.3 L496,240.3 L496.25,240.3 L496.5,240.3 L496.75,240.3 L497,240.3 L497.25,240.3 L497.5,240.3 L497.75,240.3 L498,240.3 L498.25,240.3 L498.5,240.3 L498.75,240.3 L499,240.3 L499.25,240.3 L499.5,240.3 L499.75,240.3 L500,240.3 L500.25,240.3 L500.5,240.3 L500.75,240.3 L501,240.3 L501.25,240.3 L501.5,240.3 L501.75,240.3 L502,240.3 L502.25,240.3 L502.5,240.3 L502.75,240.3 L503,240.3 L503.25,240.3 L503.5,240.3 L503.75,240.3 L504,240.3 L504.25,240.3 L504.5,240.3 L504.75,240.3 L505,240.3 L505.25,240.3 L505.5,240.3 L505.75,240.3 L506,240.3 L506.25,240.3 L506.5,240.3 L506.75,240.3 L507,240.3 L507.25,240.3 L507.5,240.3 L507.75,240.3 L508,240.3 L508.25,240.3 L508.5,240.3 L508.75,240.3 L509,240.3 L509.25,240.3 L509.5,240.3 L509.75,240.3 L510,240.3 L510.25,240.3 L510.5,240.3 L510.75,240.3 L511,240.3 L511.25,240.3 L511.5,240.3 L511.75,240.3 L512,240.3 L512.25,240.3 L512.5,240.3 L512.75,240.3 L513,240.3 L513.25,240.3 L513.5,240.3 L513.75,240.3 L514,240.3 L514.25,240.3 L514.5,240.3 L514.75,240.3 L515,240.3 L515.25,240.3 L515.5,240.3 L515.75,240.3 L516,240.3 L516.25,240.3 L516.5,240.3 L516.75,240.3 L517,240.3 L517.25,240.3 L517.5,240.3 L517.75,240.3 L518,240.3 L518.25,240.3 L518.5,240.3 L518.75,240.3 L519,240.3 L519.25,240.3 L519.5,240.3 L519.75,240.3 L520,240.3 L520.25,240.3 L520.5,240.3 L520.75,240.3 L521,240.3 L521.25,240.3 L521.5,240.3 L521.75,240.3 L522,240.3 L522.25,240.3 L522.5,240.3 L522.75,240.3 L523,240.3 L523.25,240.3 L523.5,240.3 L523.75,240.3 L524,240.3 L524.25,240.3 L524.5,240.3 L524.75,240.3 L525,240.3 L525.25,240.3 L525.5,240.3 L525.75,240.3 L526,240.3 L526.25,240.3 L526.5,240.3 L526.75,240.3 L527,240.3 L527.25,240.3 L527.5,240.3 L527.75,240.3 L528,240.3 L528.25,240.3 L528.5,240.3 L528.75,240.3 L529,240.3 L529.25,240.3 L529.5,240.3 L529.75,240.3 L530,240.3 L530.25,240.3 L530.5,240.3 L530.75,240.3 L531,240.3 L531.25,240.3 L531.5,240.3 L531.75,240.3 L532,240.3 L532.25,240.3 L532.5,240.3 L532.75,240.3 L533,240.3 L533.25,240.3 L533.5,240.3 L533.75,240.3 L534,240.3 L534.25,240.3 L534.5,240.3 L534.75,240.3 L535,240.3 L535.25,240.3 L535.5,240.3 L535.75,240.3 L536,240.3 L536.25,240.3 L536.5,240.3 L536.75,240.3 L537,240.3 L537.25,240.3 L537.5,240.3 L537.75,240.3 L538,240.3 L538.25,240.3 L538.5,240.3 L538.75,240.3 L539,240.3 L539.25,240.3 L539.5,240.3 L539.75,240.3 L540,240.3 L540.25,240.3 L540.5,240.3" fill="none" stroke="#D95319" stroke-width="1.9" stroke-linejoin="round"/>
<text class="tk" x="42.5" y="314.0" text-anchor="end">0</text>
<text class="tk" x="42.5" y="259.7" text-anchor="end">10</text>
<text class="tk" x="42.5" y="204.7" text-anchor="end">20</text>
<text class="tk" x="47.2" y="329.2" text-anchor="middle">0</text>
<text class="tk" x="145.8" y="329.2" text-anchor="middle">0.2</text>
<text class="tk" x="244.4" y="329.2" text-anchor="middle">0.4</text>
<text class="tk" x="343" y="329.2" text-anchor="middle">0.6</text>
<text class="tk" x="441.6" y="329.2" text-anchor="middle">0.8</text>
<text class="tk" x="540.2" y="329.2" text-anchor="middle">1</text>
<rect x="503.5" y="20.5" width="18" height="26" fill="#fff" stroke="#5a5a5a" stroke-width="0.8"/>
<text class="an" x="512.0" y="39.1" text-anchor="middle">a</text>
<text class="an" x="508.2" y="227.7" text-anchor="middle">b</text>
<rect x="333" y="205.5" width="155" height="39" rx="0.5" fill="#fff" stroke="#8c8c8c" stroke-width="1"/>
<line x1="335.3" y1="215.5" x2="361" y2="215.5" stroke="#0072BD" stroke-width="2"/>
<line x1="335.3" y1="234.3" x2="361" y2="234.3" stroke="#D95319" stroke-width="2"/>
<text class="lg" y="219.6"><tspan x="363.3" textLength="41.4" lengthAdjust="spacingAndGlyphs">Linear</tspan> <tspan x="411.1" textLength="40.9" lengthAdjust="spacingAndGlyphs">Model</tspan></text>
<text class="lg" y="238.1"><tspan x="363.5" textLength="73.6" lengthAdjust="spacingAndGlyphs">Non-Linear</tspan> <tspan x="445.1" textLength="40" lengthAdjust="spacingAndGlyphs">Model</tspan></text>
<text class="lb" transform="translate(20.5,87) rotate(-90)"><tspan class="it" x="0" y="0">u</tspan><tspan x="9.8" y="0.6" font-size="18.4">(</tspan><tspan x="16.4" y="1.2" font-size="21" textLength="13" lengthAdjust="spacingAndGlyphs">%</tspan><tspan x="29.3" y="0.6" font-size="18.4">)</tspan></text>
<text class="lb" transform="translate(16.8,279.6) rotate(-90)"><tspan x="-0.4" y="1.3" textLength="14.4" lengthAdjust="spacingAndGlyphs">−</tspan><tspan class="it" x="13.6" y="0" font-size="16.5">v</tspan><tspan class="it" x="21.3" y="3.2" font-size="11.5">o</tspan><tspan x="27.6" y="0.6" font-size="18.4">(</tspan><tspan class="it" x="33.8" y="0">V</tspan><tspan x="46.7" y="0.6" font-size="18.4">)</tspan></text>
<text class="lb"><tspan class="it" x="280.0" y="348.1">t</tspan><tspan x="287.0" y="348.7" font-size="18.4">(</tspan><tspan class="it" x="293.8" y="348.1">s</tspan><tspan x="301.4" y="348.7" font-size="18.4">)</tspan></text>
</svg>
</body></html>
